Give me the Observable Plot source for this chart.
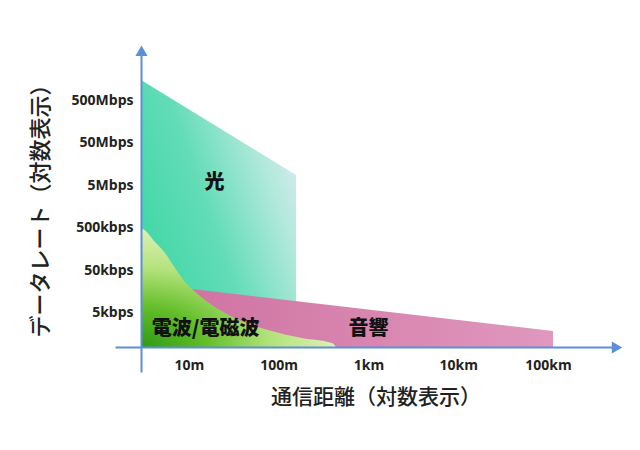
<!DOCTYPE html>
<html>
<head>
<meta charset="utf-8">
<script src="https://cdn.jsdelivr.net/npm/d3@7"></script>
<script src="https://cdn.jsdelivr.net/npm/@observablehq/plot@0.6"></script>
<style>
  html, body { margin: 0; padding: 0; background: #fff; }
  #chart { width: 640px; height: 450px; }
</style>
</head>
<body>
<div id="chart"></div>
<script>
// --- data (distance in metres, rate in kbps; both log scales) ---
const distanceTicks = [10, 100, 1000, 10000, 100000];
const distanceLabels = ["10m", "100m", "1km", "10km", "100km"];
const rateTicks = [5, 50, 500, 5000, 50000, 500000];
const rateLabels = ["5kbps", "50kbps", "500kbps", "5Mbps", "50Mbps", "500Mbps"];

const xDomain = [2.92, 491000];
const yDomain = [0.748, 7.98e6];
const xAxisSpan = [1.5, 6.0e5];
const yAxisSpan = [0.192, 7.98e6];

// 光 (light)
const lightDist = [2.92, 156];
const lightRate = [1.48e6, 8500];
// 電波/電磁波 (radio)
const radioDist = [2.92, 2.99, 4.18, 5.41, 6.98, 9.02, 11.1, 18.0, 32.6, 75.9, 181, 392, 435];
const radioRate = [430, 454, 224, 123, 54.6, 25.5, 16.5, 7.3, 3.6, 1.88, 1.22, 0.93, 0.748];
// 音響 (sound)
const soundDist = [10.8, 113800];
const soundRate = [17.4, 1.78];

const areaNames = ["光", "電波/電磁波", "音響"];
const areaLabelDist = [19.0, 15.1, 986];
const areaLabelRate = [5820, 2.1, 2.1];

const xTitle = "通信距離（対数表示）";
const yTitle = "データレート（対数表示）";

// --- build tables ---
const light = lightDist.map((d, i) => ({d, r: lightRate[i]}));
const radio = radioDist.map((d, i) => ({d, r: radioRate[i]}));
const sound = soundDist.map((d, i) => ({d, r: soundRate[i]}));
const labels = areaNames.map((n, i) => ({n, d: areaLabelDist[i], r: areaLabelRate[i]}));
const xTickRows = distanceTicks.map((d, i) => ({d, t: distanceLabels[i]}));
const yTickRows = rateTicks.map((r, i) => ({r, t: rateLabels[i]}));
const axisColor = "#5b8fd8";
const tickFont = "'Open Sans', sans-serif";
const jpFont = "'Noto Sans CJK JP', sans-serif";

const plot = Plot.plot({
  width: 640,
  height: 450,
  marginLeft: 141,
  marginRight: 30,
  marginTop: 49,
  marginBottom: 103,
  style: {fontFamily: tickFont, color: "#222", background: "#fff"},
  x: {type: "log", domain: xDomain, axis: null},
  y: {type: "log", domain: yDomain, axis: null},
  marks: [
    Plot.areaY(light, {x: "d", y: "r", y1: yDomain[0], fill: "url(#lightGrad)"}),
    Plot.areaY(sound, {x: "d", y: "r", y1: yDomain[0], fill: "url(#soundGrad)"}),
    Plot.areaY(radio, {x: "d", y: "r", y1: yDomain[0], fill: "url(#radioGrad)", curve: "monotone-x"}),
    Plot.text(labels, {x: "d", y: "r", text: "n", fontSize: 20, fontWeight: 900,
      fontFamily: jpFont, fill: "#111"}),
    // tick labels
    Plot.text(xTickRows, {x: "d", y: () => yDomain[0], text: "t", dy: 18, fontSize: 14, fontWeight: "bold",
      fontFamily: tickFont, fill: "#222", letterSpacing: "-0.3px"}),
    Plot.text(yTickRows, {x: () => xDomain[0], y: "r", text: "t", dx: -8, textAnchor: "end", fontSize: 14,
      fontWeight: "bold", fontFamily: tickFont, fill: "#222", letterSpacing: "-0.3px"}),
    // axes with arrows
    Plot.link([0], {x1: xAxisSpan[0], x2: xAxisSpan[1], y1: yDomain[0], y2: yDomain[0],
      stroke: axisColor, strokeWidth: 2}),
    Plot.link([0], {x1: xDomain[0], x2: xDomain[0], y1: yAxisSpan[0], y2: yAxisSpan[1],
      stroke: axisColor, strokeWidth: 2}),
    Plot.dot([0], {x: xAxisSpan[1], y: yDomain[0], symbol: "triangle", r: 4.5, dx: -3, rotate: 90,
      fill: axisColor, stroke: null}),
    Plot.dot([0], {x: xDomain[0], y: yAxisSpan[1], symbol: "triangle", r: 4.5, dy: 3, rotate: 0,
      fill: axisColor, stroke: null}),
    // axis titles
    Plot.text([xTitle], {frameAnchor: "bottom", dy: 56, fontSize: 21, fontWeight: 500,
      fontFamily: jpFont, fill: "#222"}),
    Plot.text([yTitle], {frameAnchor: "left", textAnchor: "middle", dx: -101, dy: 7, rotate: -90,
      fontSize: 22, fontWeight: 500, fontFamily: jpFont, fill: "#222"})
  ]
});

// gradients
const svg = d3.select(plot);
const defs = svg.insert("defs", ":first-child");
const lg = defs.append("linearGradient").attr("id", "lightGrad")
  .attr("x1", 0).attr("y1", 0.8).attr("x2", 1).attr("y2", 0.2);
[[0, "#3ad6a2"], [0.45, "#62dcb7"], [0.8, "#b3e9dc"], [1, "#dde9f7"]]
  .forEach(([o, c]) => lg.append("stop").attr("offset", o).attr("stop-color", c));
const rg = defs.append("radialGradient").attr("id", "radioGrad")
  .attr("cx", 0).attr("cy", 1).attr("r", 1.1).attr("fx", 0).attr("fy", 1);
[[0, "#2f9a12"], [0.3, "#62bd28"], [0.6, "#b2e27a"], [1, "#ecf4c8"]]
  .forEach(([o, c]) => rg.append("stop").attr("offset", o).attr("stop-color", c));
const sg = defs.append("linearGradient").attr("id", "soundGrad")
  .attr("x1", 0).attr("y1", 0).attr("x2", 1).attr("y2", 0);
[[0, "#d074a3"], [1, "#e098bd"]]
  .forEach(([o, c]) => sg.append("stop").attr("offset", o).attr("stop-color", c));

document.getElementById("chart").appendChild(plot);
</script>
</body>
</html>
